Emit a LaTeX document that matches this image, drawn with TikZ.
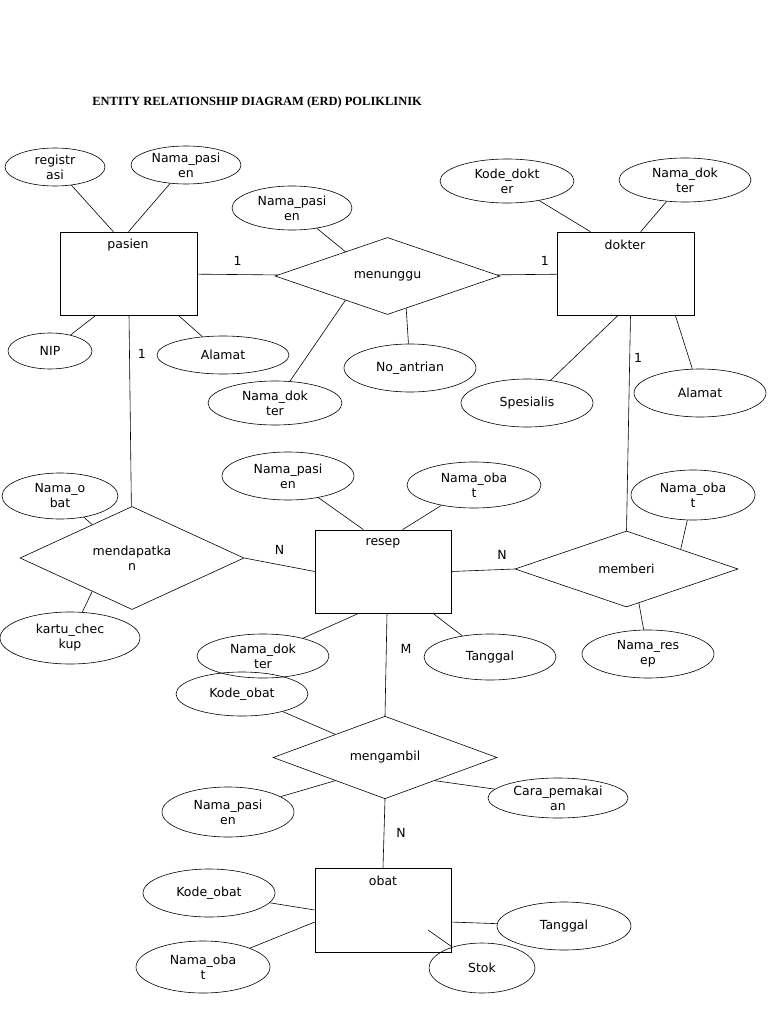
\documentclass[tikz,border=0pt]{standalone}
\usepackage{fontspec}
\setmainfont{DejaVu Sans}
\newfontfamily\titlefont{Liberation Serif}
\usetikzlibrary{shapes.geometric}
\begin{document}
\begin{tikzpicture}[x=1pt,y=-1pt,
  every node/.style={font=\fontsize{12.5}{15}\selectfont},
  ent/.style={draw,rectangle,minimum width=136pt,minimum height=83pt,inner sep=0},
  att/.style={draw,ellipse,align=center,inner sep=0},
  rel/.style={draw,diamond,inner sep=0,align=center},
  lbl/.style={inner sep=0},
  line width=0.6pt]
\useasboundingbox (0,0) rectangle (768,1024);
\node[lbl,anchor=west,font=\titlefont\bfseries\fontsize{12.5}{15}\selectfont] (title) at (92,102) {ENTITY RELATIONSHIP DIAGRAM (ERD) POLIKLINIK};
% entities
\node[ent,minimum width=137pt] (pasien) at (128.5,273.5) {};
\node[lbl] at (128,245) {pasien};
\node[ent,minimum width=137pt] (dokter) at (625.5,273.5) {};
\node[lbl] at (625,245) {dokter};
\node[ent] (resep) at (383,571.5) {};
\node[lbl] at (383,543) {resep};
\node[ent,minimum height=84pt] (obat) at (383,910) {};
\node[lbl] at (383,881) {obat};
\coordinate (obatin) at (428,930);
% relations
\node[rel,minimum width=225pt,minimum height=76pt] (menunggu) at (387.5,276) {menunggu};
\node[rel,minimum width=224pt,minimum height=78pt] (mendapatkan) at (132,558) {mendapatka\\n};
\node[rel,minimum width=223pt,minimum height=76pt] (memberi) at (626.5,569) {memberi};
\node[rel,minimum width=224pt,minimum height=77pt] (mengambil) at (385,757.5) {mengambil};
% attributes pasien
\node[att,minimum width=100pt,minimum height=38pt] (p1) at (55,167) {registr\\asi};
\node[att,minimum width=110pt,minimum height=38pt] (p2) at (186,165) {Nama\_pasi\\en};
\node[att,minimum width=84pt,minimum height=36pt] (p3) at (50,351) {NIP};
\node[att,minimum width=132pt,minimum height=38pt] (p4) at (223,355) {Alamat};
\draw (p1) -- (pasien.110);
\draw (p2) -- (pasien.north);
\draw (pasien.-128) -- (p3);
\draw (pasien.-40) -- (p4);
% dokter
\node[att,minimum width=134pt,minimum height=44pt] (d1) at (507,181) {Kode\_dokt\\er};
\node[att,minimum width=132pt,minimum height=44pt] (d2) at (685,180) {Nama\_dok\\ter};
\node[att,minimum width=132pt,minimum height=48pt] (d3) at (527,403) {Spesialis};
\node[att,minimum width=132pt,minimum height=48pt] (d4) at (700,393) {Alamat};
\draw (d1) -- (dokter.130);
\draw (d2) -- (dokter.70);
\draw (dokter.-100) -- (d3);
\draw (dokter.-40) -- (d4);
% menunggu
\node[att,minimum width=120pt,minimum height=44pt] (m1) at (292,208) {Nama\_pasi\\en};
\node[att,minimum width=134pt,minimum height=44pt] (m2) at (275,403) {Nama\_dok\\ter};
\node[att,minimum width=132pt,minimum height=48pt] (m3) at (410,368) {No\_antrian};
\draw (m1) -- (menunggu.150);
\draw (menunggu.-150) -- (m2);
\draw (menunggu.-60) -- (m3);
\draw (pasien) -- node[lbl,above=9pt] {1} (menunggu);
\draw (menunggu) -- node[lbl,above=9pt,pos=0.8] {1} (dokter);
\draw (pasien) -- node[lbl,right=8pt,pos=0.2] {1} (mendapatkan);
\draw (dokter.south) ++(5,0) coordinate (ds) (ds) -- node[lbl,right=4pt,pos=0.2] {1} (memberi.north);
% mendapatkan
\node[att,minimum width=116pt,minimum height=46pt] (a1) at (60,496) {Nama\_o\\bat};
\node[att,minimum width=140pt,minimum height=52pt] (a2) at (70,638) {kartu\_chec\\kup};
\draw (a1) -- (mendapatkan.140);
\draw (mendapatkan.-140) -- (a2);
\draw (mendapatkan.east) -- node[lbl,above=10pt] {N} (resep.west);
% resep
\node[att,minimum width=132pt,minimum height=48pt] (r1) at (288,476) {Nama\_pasi\\en};
\node[att,minimum width=134pt,minimum height=46pt] (r2) at (474,485) {Nama\_oba\\t};
\node[att,minimum width=132pt,minimum height=44pt] (r3) at (263,656) {Nama\_dok\\ter};
\node[att,minimum width=132pt,minimum height=46pt] (r4) at (490,657) {Tanggal};
\draw (r1) -- (resep.115);
\draw (r2) -- (resep.65);
\draw (resep.-120) -- (r3);
\draw (resep.-40) -- (r4);
\draw (resep.east) -- node[lbl,above=10pt,pos=0.8] {N} (memberi.west);
% memberi
\node[att,minimum width=124pt,minimum height=50pt] (b1) at (693,495) {Nama\_oba\\t};
\node[att,minimum width=132pt,minimum height=48pt] (b2) at (648,654) {Nama\_res\\ep};
\draw (b1) -- (memberi.20);
\draw (memberi.-70) -- (b2);
% mengambil
\draw (resep.south) ++(4,0) coordinate (rs) (rs) -- node[lbl,right=14pt,pos=0.35] {M} (mengambil.north);
\node[att,minimum width=132pt,minimum height=44pt] (g1) at (242,694) {Kode\_obat};
\node[att,minimum width=132pt,minimum height=50pt] (g2) at (228,812) {Nama\_pasi\\en};
\node[att,minimum width=140pt,minimum height=40pt] (g3) at (558,798) {Cara\_pemakai\\an};
\draw (g1) -- (mengambil.155);
\draw (mengambil.-155) -- (g2);
\draw (mengambil.-25) -- (g3);
\draw (mengambil.south) -- node[lbl,right=12pt] {N} (obat.north);
% obat
\node[att,minimum width=132pt,minimum height=48pt] (o1) at (209,893) {Kode\_obat};
\node[att,minimum width=134pt,minimum height=52pt] (o2) at (203,967) {Nama\_oba\\t};
\node[att,minimum width=134pt,minimum height=48pt] (o3) at (564,926) {Tanggal};
\node[att,minimum width=106pt,minimum height=50pt] (o4) at (482,968) {Stok};
\draw (o1) -- (obat.west);
\draw (o2) -- (obat.-170);
\draw (o3) -- (obat.-10);
\draw (o4) -- (obatin);
\end{tikzpicture}
\end{document}
